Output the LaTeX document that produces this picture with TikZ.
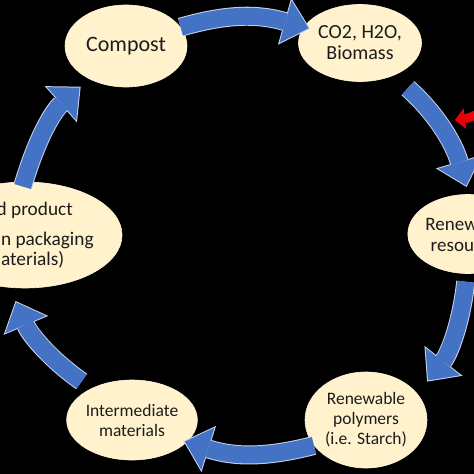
\documentclass[tikz,border=0pt]{standalone}
\usepackage{fontspec}
\setmainfont{Carlito}
\usetikzlibrary{shapes.geometric,arrows.meta}

\definecolor{cream}{HTML}{FFF2CC}
\definecolor{flowblue}{HTML}{4472C4}
\definecolor{flowedge}{HTML}{C5D3EE}
\definecolor{inkgrey}{HTML}{1C1C1C}
\definecolor{alertred}{HTML}{E8000B}

\tikzset{
  stage/.style={ellipse, fill=cream, draw=cream!70!white, line width=0.6pt,
    inner sep=0pt, text=inkgrey, align=center},
  flow/.style 2 args={draw=flowblue, line width=17pt,
    shorten <=#1, shorten >=#2,
    -{Triangle[width=44pt,length=24pt,line width=0pt]},
    preaction={draw=flowedge, line width=19pt, shorten >=#2-1.5pt,
      -{Triangle[width=48.5pt,length=26.5pt,line width=0pt]}}},
  alert/.style={draw=alertred, line width=9pt,
    -{Triangle[width=21pt,length=10pt,line width=0pt]}},
}

\begin{document}
\begin{tikzpicture}[x=1pt,y=-1pt]
  % black page
  \fill[black] (0,0) rectangle (474,474);
  \useasboundingbox (0,0) rectangle (474,474);

  % stages of the cycle
  \node[stage, minimum width=122pt, minimum height=82pt,
    font=\fontsize{22}{26}\selectfont] (cmp) at (126,46) {Compost};
  \node[stage, minimum width=123pt, minimum height=77pt,
    font=\fontsize{20}{21}\selectfont] (co2) at (360,43) {CO2, H2O,\\Biomass};
  \node[stage, minimum width=120pt, minimum height=79pt,
    font=\fontsize{19}{21}\selectfont] (res) at (468,234) {Renewable\\resources};
  \node[stage, minimum width=122pt, minimum height=96pt,
    font=\fontsize{17.5}{20}\selectfont] (pol) at (366,420) {Renewable\\polymers\\(i.e. Starch)};
  \node[stage, minimum width=120pt, minimum height=80pt,
    font=\fontsize{17.5}{20}\selectfont] (mid) at (132,420) {Intermediate\\materials};
  \node[stage, minimum width=152pt, minimum height=106pt,
    font=\fontsize{19.3}{20}\selectfont] (end) at (25,235) {End product\\[10pt](e.g. in packaging\\materials)};

  % cycle arrows
  \draw[flow={0pt}{-5pt}] (cmp.19) to[bend left=16] (co2.164);
  \draw[flow={19pt}{9pt}] (co2.-44) to[bend left=16] (res.89);
  \draw[flow={8pt}{17pt}] (res.-92) to[bend left=16] (pol.27);
  \draw[flow={0pt}{-2pt}] (pol.206) to[bend left=16] (mid.-22);
  \draw[flow={12pt}{16pt}] (mid.142) to[bend left=16] (end.254);
  \draw[flow={-5pt}{13pt}] (end.91) to[bend left=16] (cmp.222);

  % red pointer
  \coordinate (warn) at (484,111);
  \coordinate (warntip) at (455,120);
  \draw[alert] (warn) to[bend left=10] (warntip);
\end{tikzpicture}
\end{document}
